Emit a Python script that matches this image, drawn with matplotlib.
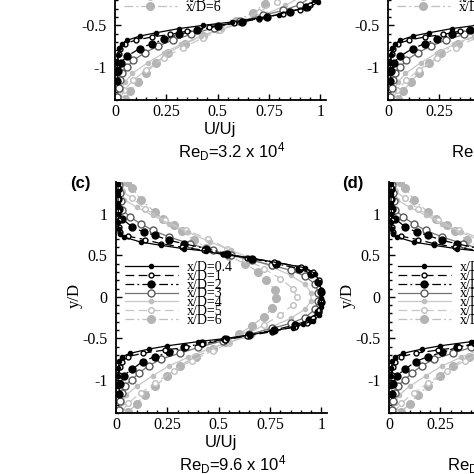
import matplotlib
matplotlib.use('Agg')
import matplotlib.pyplot as plt
from matplotlib.ticker import MultipleLocator, FuncFormatter

plt.rcParams['axes.unicode_minus'] = False
plt.rcParams['mathtext.default'] = 'regular'

labels = ['x/D=0.4', 'x/D=1', 'x/D=2', 'x/D=3', 'x/D=4', 'x/D=5', 'x/D=6']
tags = ['(a)', '(b)', '(c)', '(d)']
re_texts = [r'Re$_{\mathregular{D}}$=3.2 x 10$^{\mathregular{4}}$',
            r'Re$_{\mathregular{D}}$=6.4 x 10$^{\mathregular{4}}$',
            r'Re$_{\mathregular{D}}$=9.6 x 10$^{\mathregular{4}}$',
            r'Re$_{\mathregular{D}}$=1.28 x 10$^{\mathregular{5}}$']

# y/D stations of each profile
y04 = [1.36, 1.24, 1.12, 1.0, 0.90, 0.82, 0.76, 0.72, 0.66, 0.62, 0.58, 0.55, 0.51, 0.47, 0.41, 0.35, 0.28, 0.18,
       0.08, -0.02, -0.12, -0.22, -0.29, -0.33, -0.37, -0.41, -0.46, -0.50, -0.54, -0.59, -0.63, -0.68, -0.72, -0.77,
       -0.86, -0.96, -1.08]
y1 = [1.32, 1.18, 1.04, 0.92, 0.84, 0.78, 0.73, 0.69, 0.64, 0.60, 0.56, 0.52, 0.47, 0.42, 0.36, 0.30, 0.20, 0.08,
      -0.04, -0.16, -0.26, -0.31, -0.36, -0.42, -0.47, -0.52, -0.57, -0.61, -0.64, -0.68, -0.72, -0.78, -0.84, -0.94,
      -1.06]
y2 = [1.30, 1.18, 1.06, 0.94, 0.84, 0.78, 0.74, 0.68, 0.64, 0.58, 0.52, 0.46, 0.40, 0.34, 0.28, 0.18, 0.06, -0.06,
      -0.18, -0.28, -0.34, -0.40, -0.46, -0.51, -0.56, -0.61, -0.67, -0.72, -0.78, -0.87, -0.95, -1.05, -1.17]
y3 = [1.35, 1.25, 1.15, 1.05, 0.96, 0.88, 0.80, 0.72, 0.64, 0.56, 0.50, 0.44, 0.38, 0.32, 0.25, 0.15, 0.05, -0.05,
      -0.15, -0.25, -0.32, -0.38, -0.45, -0.53, -0.61, -0.68, -0.75, -0.83, -0.92, -1.0, -1.07, -1.16, -1.26, -1.36]
y4 = [1.38, 1.28, 1.17, 1.08, 0.98, 0.88, 0.78, 0.66, 0.56, 0.46, 0.36, 0.26, 0.15, 0.05, -0.05, -0.15, -0.26, -0.36,
      -0.46, -0.55, -0.63, -0.73, -0.83, -0.95, -1.08, -1.18, -1.28, -1.38]
y5 = [1.38, 1.27, 1.19, 1.06, 0.92, 0.80, 0.70, 0.58, 0.46, 0.34, 0.22, 0.10, 0.0, -0.10, -0.22, -0.34, -0.46, -0.56,
      -0.65, -0.77, -0.89, -1.04, -1.16, -1.28, -1.38]
y6 = [1.38, 1.31, 1.17, 1.02, 0.94, 0.86, 0.79, 0.69, 0.59, 0.49, 0.40, 0.30, 0.20, 0.08, -0.02, -0.14, -0.24, -0.35,
      -0.45, -0.54, -0.63, -0.72, -0.83, -0.95, -1.08, -1.18, -1.29, -1.39]

# U/Uj, top row (lower Re)
u_top04 = [0.01, 0.01, 0.01, 0.012, 0.012, 0.014, 0.016, 0.025, 0.08, 0.17, 0.27, 0.37, 0.47, 0.57, 0.72, 0.86, 0.95,
           0.99, 1.0, 1.0, 1.0, 0.99, 0.94, 0.845, 0.80, 0.70, 0.57, 0.43, 0.31, 0.20, 0.12, 0.06, 0.035, 0.02, 0.014,
           0.012, 0.01]
u_top1 = [0.01, 0.01, 0.012, 0.014, 0.016, 0.018, 0.04, 0.10, 0.17, 0.26, 0.36, 0.46, 0.58, 0.71, 0.85, 0.93, 0.98,
          1.0, 1.0, 0.99, 0.95, 0.90, 0.82, 0.70, 0.58, 0.46, 0.35, 0.27, 0.18, 0.10, 0.05, 0.025, 0.018, 0.012, 0.01]
u_top2 = [0.01, 0.012, 0.016, 0.025, 0.06, 0.11, 0.16, 0.23, 0.30, 0.40, 0.50, 0.62, 0.74, 0.86, 0.93, 0.98, 1.0, 1.0,
          0.98, 0.93, 0.85, 0.74, 0.62, 0.50, 0.40, 0.31, 0.24, 0.18, 0.12, 0.06, 0.028, 0.016, 0.012]
u_top3 = [0.012, 0.015, 0.02, 0.025, 0.06, 0.11, 0.16, 0.23, 0.32, 0.43, 0.52, 0.62, 0.72, 0.82, 0.90, 0.96, 0.985,
          0.985, 0.96, 0.90, 0.82, 0.72, 0.61, 0.48, 0.37, 0.28, 0.21, 0.145, 0.09, 0.06, 0.035, 0.025, 0.018, 0.012]
u_top4 = [0.015, 0.025, 0.035, 0.07, 0.14, 0.22, 0.31, 0.42, 0.53, 0.64, 0.74, 0.83, 0.91, 0.95, 0.95, 0.91, 0.83, 0.74,
          0.63, 0.52, 0.42, 0.32, 0.24, 0.16, 0.085, 0.05, 0.03, 0.018]
u_top5 = [0.015, 0.025, 0.05, 0.11, 0.20, 0.30, 0.40, 0.50, 0.60, 0.70, 0.79, 0.85, 0.87, 0.85, 0.79, 0.70, 0.60, 0.51,
          0.43, 0.33, 0.24, 0.15, 0.09, 0.045, 0.025]
u_top6 = [0.04, 0.06, 0.09, 0.15, 0.19, 0.23, 0.27, 0.34, 0.42, 0.51, 0.60, 0.68, 0.73, 0.77, 0.78, 0.76, 0.73, 0.67,
          0.59, 0.50, 0.43, 0.34, 0.26, 0.20, 0.15, 0.11, 0.075, 0.05]

# U/Uj, bottom row (higher Re)
u_bot04 = [0.01, 0.01, 0.01, 0.012, 0.012, 0.014, 0.018, 0.04, 0.12, 0.22, 0.33, 0.44, 0.52, 0.65, 0.79, 0.92, 0.97,
           0.99, 1.0, 1.0, 1.0, 0.99, 0.96, 0.91, 0.86, 0.76, 0.65, 0.54, 0.40, 0.25, 0.16, 0.07, 0.03, 0.016, 0.012,
           0.01, 0.01]
u_bot1 = [0.01, 0.01, 0.012, 0.014, 0.016, 0.02, 0.06, 0.14, 0.22, 0.32, 0.43, 0.52, 0.64, 0.77, 0.90, 0.96, 0.99,
          1.0, 1.0, 0.99, 0.96, 0.93, 0.87, 0.76, 0.64, 0.53, 0.42, 0.34, 0.24, 0.13, 0.06, 0.03, 0.02, 0.014, 0.01]
u_bot2 = [0.01, 0.012, 0.016, 0.03, 0.08, 0.135, 0.19, 0.26, 0.33, 0.44, 0.54, 0.66, 0.78, 0.89, 0.95, 0.985, 1.0,
          1.0, 0.985, 0.94, 0.87, 0.77, 0.65, 0.53, 0.42, 0.33, 0.26, 0.19, 0.13, 0.08, 0.037, 0.02, 0.014]
u_bot3 = [0.015, 0.02, 0.025, 0.03, 0.07, 0.12, 0.18, 0.26, 0.36, 0.47, 0.56, 0.66, 0.76, 0.85, 0.92, 0.97, 0.985,
          0.985, 0.97, 0.92, 0.85, 0.76, 0.65, 0.52, 0.40, 0.31, 0.22, 0.16, 0.11, 0.078, 0.042, 0.03, 0.02, 0.015]
u_bot4 = [0.02, 0.03, 0.04, 0.10, 0.18, 0.26, 0.35, 0.46, 0.56, 0.66, 0.76, 0.85, 0.92, 0.95, 0.95, 0.92, 0.85, 0.76,
          0.66, 0.55, 0.45, 0.35, 0.26, 0.18, 0.10, 0.05, 0.03, 0.02]
u_bot5 = [0.02, 0.03, 0.08, 0.14, 0.24, 0.34, 0.45, 0.54, 0.63, 0.72, 0.80, 0.86, 0.88, 0.86, 0.80, 0.72, 0.63, 0.55,
          0.47, 0.37, 0.28, 0.19, 0.12, 0.06, 0.03]
u_bot6 = [0.054, 0.08, 0.12, 0.19, 0.23, 0.28, 0.32, 0.38, 0.44, 0.55, 0.63, 0.69, 0.73, 0.776, 0.78, 0.76, 0.72, 0.66,
          0.60, 0.53, 0.47, 0.39, 0.31, 0.25, 0.19, 0.14, 0.10, 0.06]

y_all = [y04, y1, y2, y3, y4, y5, y6]
u_top = [u_top04, u_top1, u_top2, u_top3, u_top4, u_top5, u_top6]
u_bot = [u_bot04, u_bot1, u_bot2, u_bot3, u_bot4, u_bot5, u_bot6]

styles = [
    dict(color='k', ls='-', marker='o', ms=3, mfc='k', mec='k'),
    dict(color='k', dashes=(7, 3.5), marker='o', ms=3.5, mfc='white', mec='k'),
    dict(color='k', dashes=(7, 2.5, 1.5, 2.5), marker='o', ms=5, mfc='k', mec='k'),
    dict(color='0.45', ls='-', marker='o', ms=5, mfc='white', mec='0.35'),
    dict(color='0.78', ls='-', marker='o', ms=3, mfc='0.75', mec='0.75'),
    dict(color='0.78', dashes=(7, 3.5), marker='o', ms=4, mfc='white', mec='0.75'),
    dict(color='0.75', dashes=(7, 2.5, 1.5, 2.5), marker='o', ms=5.5, mfc='0.7', mec='0.7'),
]

serif = 'Liberation Serif'
sans = 'Liberation Sans'

fig = plt.figure(figsize=(4.74, 4.74), dpi=100)
W = 210.5 / 474
H = 230.7 / 474
positions = [[115 / 474, 1 - 100 / 474, W, H], [388 / 474, 1 - 100 / 474, W, H],
             [116 / 474, 1 - 413 / 474, W, H], [389 / 474, 1 - 413 / 474, W, H]]
data_sets = [u_top, u_top, u_bot, u_bot]

for pos, u_set, tag, re_txt in zip(positions, data_sets, tags, re_texts):
    ax = fig.add_axes(pos)
    handles = []
    for i in reversed(range(7)):
        h, = ax.plot(u_set[i], y_all[i], lw=0.9, label=labels[i], **styles[i])
        handles.append(h)
    handles = handles[::-1]

    ax.set_xlim(0, 1.025)
    ax.set_ylim(-1.4, 1.38)
    for s in ['top', 'right']:
        ax.spines[s].set_visible(False)
    for s in ['left', 'bottom']:
        ax.spines[s].set_linewidth(1.3)

    ax.xaxis.set_major_locator(MultipleLocator(0.25))
    ax.xaxis.set_minor_locator(MultipleLocator(0.05))
    ax.yaxis.set_major_locator(MultipleLocator(0.5))
    ax.yaxis.set_minor_locator(MultipleLocator(0.1))
    fmt = FuncFormatter(lambda v, p: '%g' % (round(v, 3) + 0.0))
    ax.xaxis.set_major_formatter(fmt)
    ax.yaxis.set_major_formatter(fmt)
    ax.tick_params(which='both', direction='in', top=False, right=False, width=1.0)
    ax.tick_params(which='major', length=4.5)
    ax.tick_params(which='minor', length=2.2)
    ax.tick_params(axis='x', pad=3)
    ax.tick_params(axis='y', pad=6)
    for lab in ax.get_xticklabels() + ax.get_yticklabels():
        lab.set_fontfamily(serif)
        lab.set_fontsize(11.5)

    leg = ax.legend(handles, labels, loc='center left', bbox_to_anchor=(0.043, 0.516), frameon=False,
                    numpoints=1, handlelength=3.8, handletextpad=0.65, labelspacing=-0.3,
                    borderpad=0, borderaxespad=0, prop={'family': serif, 'size': 10})

    ax.annotate('U/Uj', xy=(0.5, 0), xycoords='axes fraction', xytext=(0, -21), textcoords='offset points',
                ha='center', va='center', fontsize=12, family=sans)
    ax.annotate(re_txt, xy=(0.5, 0), xycoords='axes fraction', xytext=(8, -37.5), textcoords='offset points',
                ha='center', va='center', fontsize=12, family=sans)
    ax.annotate(tag, xy=(0, 1), xycoords='axes fraction', xytext=(-26, -1), textcoords='offset points',
                ha='center', va='center', fontsize=12, fontweight='bold', family=sans)
    ax.annotate('y/D', xy=(0, 0.511), xycoords='axes fraction', xytext=(-29.5, 0), textcoords='offset points',
                ha='center', va='center', rotation=90, fontsize=12, family=serif)

fig.savefig('out.png', dpi=100)
